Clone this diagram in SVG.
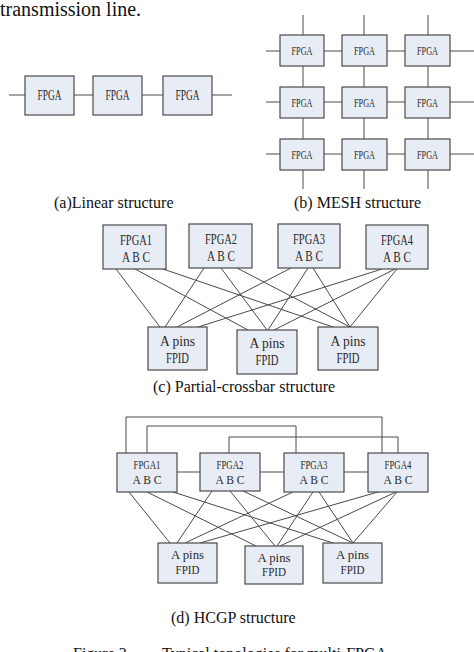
<svg xmlns="http://www.w3.org/2000/svg" width="474" height="652" viewBox="0 0 474 652">
<style>
.box{fill:#e8edf5;stroke:#4a4a4a;stroke-width:1.2}
.ln{stroke:#4a4a4a;stroke-width:1;fill:none}
.t{font-family:'Liberation Serif','Times New Roman','DejaVu Serif',serif;fill:#2a2a2a;text-anchor:middle}
.cap{font-family:'Liberation Serif','Times New Roman','DejaVu Serif',serif;fill:#111;font-size:16px}
.big{font-family:'Liberation Serif','Times New Roman','DejaVu Serif',serif;fill:#111;font-size:20px}
</style>
<rect width="474" height="652" fill="#fff"/>
<text class="big" x="0" y="16">transmission line.</text>

<g id="connectors">
<!-- linear -->
<path class="ln" d="M9 95H25M74 95H93M142 95H163M212 95H232"/>
<!-- mesh -->
<path class="ln" d="M266 51H474M266 102H474M266 154H474M303 15V189M364 15V189M428 15V189"/>
<!-- crossbar -->
<path class="ln" d="M116 269L160 327M135 269L248 330M163 269L333 327M204 268L165 327M221 268L267 330M237 268L350 327M291 268L177 327M308 268L268 330M313 268L350 327M382 269L198 327M395 269L274 330M397 269L350 327"/>
<!-- HCGP -->
<path class="ln" d="M126 453V417H382V453M147 453V426H296V453M229 453V437H398V453M177 472H200M260 472H284M344 472H368"/>
<path class="ln" d="M129 492L170 543M147 492L256 546M173 492L333 543M212 491L177 543M230 491L275 546M243 491L353 543M293 492L185 543M313 492L277 546M319 492L353 543M378 492L200 543M396 492L280 546M397 492L353 543"/>
</g>

<g id="linear">
<g id="lin1"><rect class="box" x="25" y="76" width="49" height="39"/><text class="t" x="49.5" y="100" font-size="15" textLength="24" lengthAdjust="spacingAndGlyphs">FPGA</text></g>
<g id="lin2"><rect class="box" x="93" y="76" width="49" height="39"/><text class="t" x="117.5" y="100" font-size="15" textLength="24" lengthAdjust="spacingAndGlyphs">FPGA</text></g>
<g id="lin3"><rect class="box" x="163" y="76" width="49" height="39"/><text class="t" x="187.5" y="100" font-size="15" textLength="24" lengthAdjust="spacingAndGlyphs">FPGA</text></g>
</g>

<g id="mesh">
<g id="m11"><rect class="box" x="280" y="35" width="44" height="31"/><text class="t" x="302" y="55" font-size="13" textLength="21" lengthAdjust="spacingAndGlyphs">FPGA</text></g>
<g id="m12"><rect class="box" x="342" y="35" width="45" height="31"/><text class="t" x="364.5" y="55" font-size="13" textLength="21" lengthAdjust="spacingAndGlyphs">FPGA</text></g>
<g id="m13"><rect class="box" x="405" y="35" width="45" height="31"/><text class="t" x="427.5" y="55" font-size="13" textLength="21" lengthAdjust="spacingAndGlyphs">FPGA</text></g>
<g id="m21"><rect class="box" x="280" y="87" width="44" height="31"/><text class="t" x="302" y="107" font-size="13" textLength="21" lengthAdjust="spacingAndGlyphs">FPGA</text></g>
<g id="m22"><rect class="box" x="342" y="87" width="45" height="31"/><text class="t" x="364.5" y="107" font-size="13" textLength="21" lengthAdjust="spacingAndGlyphs">FPGA</text></g>
<g id="m23"><rect class="box" x="405" y="87" width="45" height="31"/><text class="t" x="427.5" y="107" font-size="13" textLength="21" lengthAdjust="spacingAndGlyphs">FPGA</text></g>
<g id="m31"><rect class="box" x="280" y="139" width="44" height="31"/><text class="t" x="302" y="159" font-size="13" textLength="21" lengthAdjust="spacingAndGlyphs">FPGA</text></g>
<g id="m32"><rect class="box" x="342" y="139" width="45" height="31"/><text class="t" x="364.5" y="159" font-size="13" textLength="21" lengthAdjust="spacingAndGlyphs">FPGA</text></g>
<g id="m33"><rect class="box" x="405" y="139" width="45" height="31"/><text class="t" x="427.5" y="159" font-size="13" textLength="21" lengthAdjust="spacingAndGlyphs">FPGA</text></g>
</g>

<text class="cap" x="54" y="208">(a)Linear structure</text>
<text class="cap" x="294" y="208">(b) MESH structure</text>

<g id="crossbar">
<g id="c1"><rect class="box" x="103" y="225" width="63" height="44"/><text class="t" x="136" y="245" font-size="15" textLength="32" lengthAdjust="spacingAndGlyphs">FPGA1</text><text class="t" x="136" y="262" font-size="15" textLength="28" lengthAdjust="spacingAndGlyphs">A B C</text></g>
<g id="c2"><rect class="box" x="189" y="224" width="63" height="44"/><text class="t" x="221" y="244" font-size="15" textLength="32" lengthAdjust="spacingAndGlyphs">FPGA2</text><text class="t" x="221" y="261" font-size="15" textLength="28" lengthAdjust="spacingAndGlyphs">A B C</text></g>
<g id="c3"><rect class="box" x="278" y="224" width="62" height="44"/><text class="t" x="309" y="244" font-size="15" textLength="32" lengthAdjust="spacingAndGlyphs">FPGA3</text><text class="t" x="309" y="261" font-size="15" textLength="28" lengthAdjust="spacingAndGlyphs">A B C</text></g>
<g id="c4"><rect class="box" x="366" y="225" width="62" height="44"/><text class="t" x="397" y="245" font-size="15" textLength="32" lengthAdjust="spacingAndGlyphs">FPGA4</text><text class="t" x="397" y="262" font-size="15" textLength="28" lengthAdjust="spacingAndGlyphs">A B C</text></g>
<g id="p1"><rect class="box" x="148" y="327" width="59" height="43"/><text class="t" x="177.5" y="346" font-size="14" textLength="35" lengthAdjust="spacingAndGlyphs">A pins</text><text class="t" x="177.5" y="363" font-size="14" textLength="23" lengthAdjust="spacingAndGlyphs">FPID</text></g>
<g id="p2"><rect class="box" x="237" y="330" width="60" height="44"/><text class="t" x="267" y="348" font-size="14" textLength="35" lengthAdjust="spacingAndGlyphs">A pins</text><text class="t" x="267" y="365" font-size="14" textLength="23" lengthAdjust="spacingAndGlyphs">FPID</text></g>
<g id="p3"><rect class="box" x="318" y="327" width="60" height="43"/><text class="t" x="348" y="346" font-size="14" textLength="35" lengthAdjust="spacingAndGlyphs">A pins</text><text class="t" x="348" y="363" font-size="14" textLength="23" lengthAdjust="spacingAndGlyphs">FPID</text></g>
</g>
<text class="cap" x="153" y="392">(c) Partial-crossbar structure</text>

<g id="hcgp">
<g id="h1"><rect class="box" x="117" y="453" width="60" height="39"/><text class="t" x="147" y="469" font-size="12" textLength="27" lengthAdjust="spacingAndGlyphs">FPGA1</text><text class="t" x="147" y="484" font-size="12" textLength="29" lengthAdjust="spacingAndGlyphs">A B C</text></g>
<g id="h2"><rect class="box" x="200" y="453" width="60" height="38"/><text class="t" x="230" y="469" font-size="12" textLength="27" lengthAdjust="spacingAndGlyphs">FPGA2</text><text class="t" x="230" y="484" font-size="12" textLength="29" lengthAdjust="spacingAndGlyphs">A B C</text></g>
<g id="h3"><rect class="box" x="284" y="453" width="60" height="39"/><text class="t" x="314" y="469" font-size="12" textLength="27" lengthAdjust="spacingAndGlyphs">FPGA3</text><text class="t" x="314" y="484" font-size="12" textLength="29" lengthAdjust="spacingAndGlyphs">A B C</text></g>
<g id="h4"><rect class="box" x="368" y="453" width="60" height="39"/><text class="t" x="398" y="469" font-size="12" textLength="27" lengthAdjust="spacingAndGlyphs">FPGA4</text><text class="t" x="398" y="484" font-size="12" textLength="29" lengthAdjust="spacingAndGlyphs">A B C</text></g>
<g id="q1"><rect class="box" x="158" y="543" width="59" height="40"/><text class="t" x="187.5" y="559" font-size="12" textLength="33" lengthAdjust="spacingAndGlyphs">A pins</text><text class="t" x="187.5" y="574" font-size="12" textLength="24" lengthAdjust="spacingAndGlyphs">FPID</text></g>
<g id="q2"><rect class="box" x="245" y="546" width="58" height="38"/><text class="t" x="274" y="562" font-size="12" textLength="33" lengthAdjust="spacingAndGlyphs">A pins</text><text class="t" x="274" y="576" font-size="12" textLength="24" lengthAdjust="spacingAndGlyphs">FPID</text></g>
<g id="q3"><rect class="box" x="323" y="543" width="59" height="40"/><text class="t" x="352.5" y="559" font-size="12" textLength="33" lengthAdjust="spacingAndGlyphs">A pins</text><text class="t" x="352.5" y="574" font-size="12" textLength="24" lengthAdjust="spacingAndGlyphs">FPID</text></g>
</g>
<text class="cap" x="171" y="623">(d) HCGP structure</text>

<text class="cap" x="73" y="659">Figure 2.</text>
<text class="cap" x="162" y="659">Typical topologies for multi-FPGA</text>
</svg>
